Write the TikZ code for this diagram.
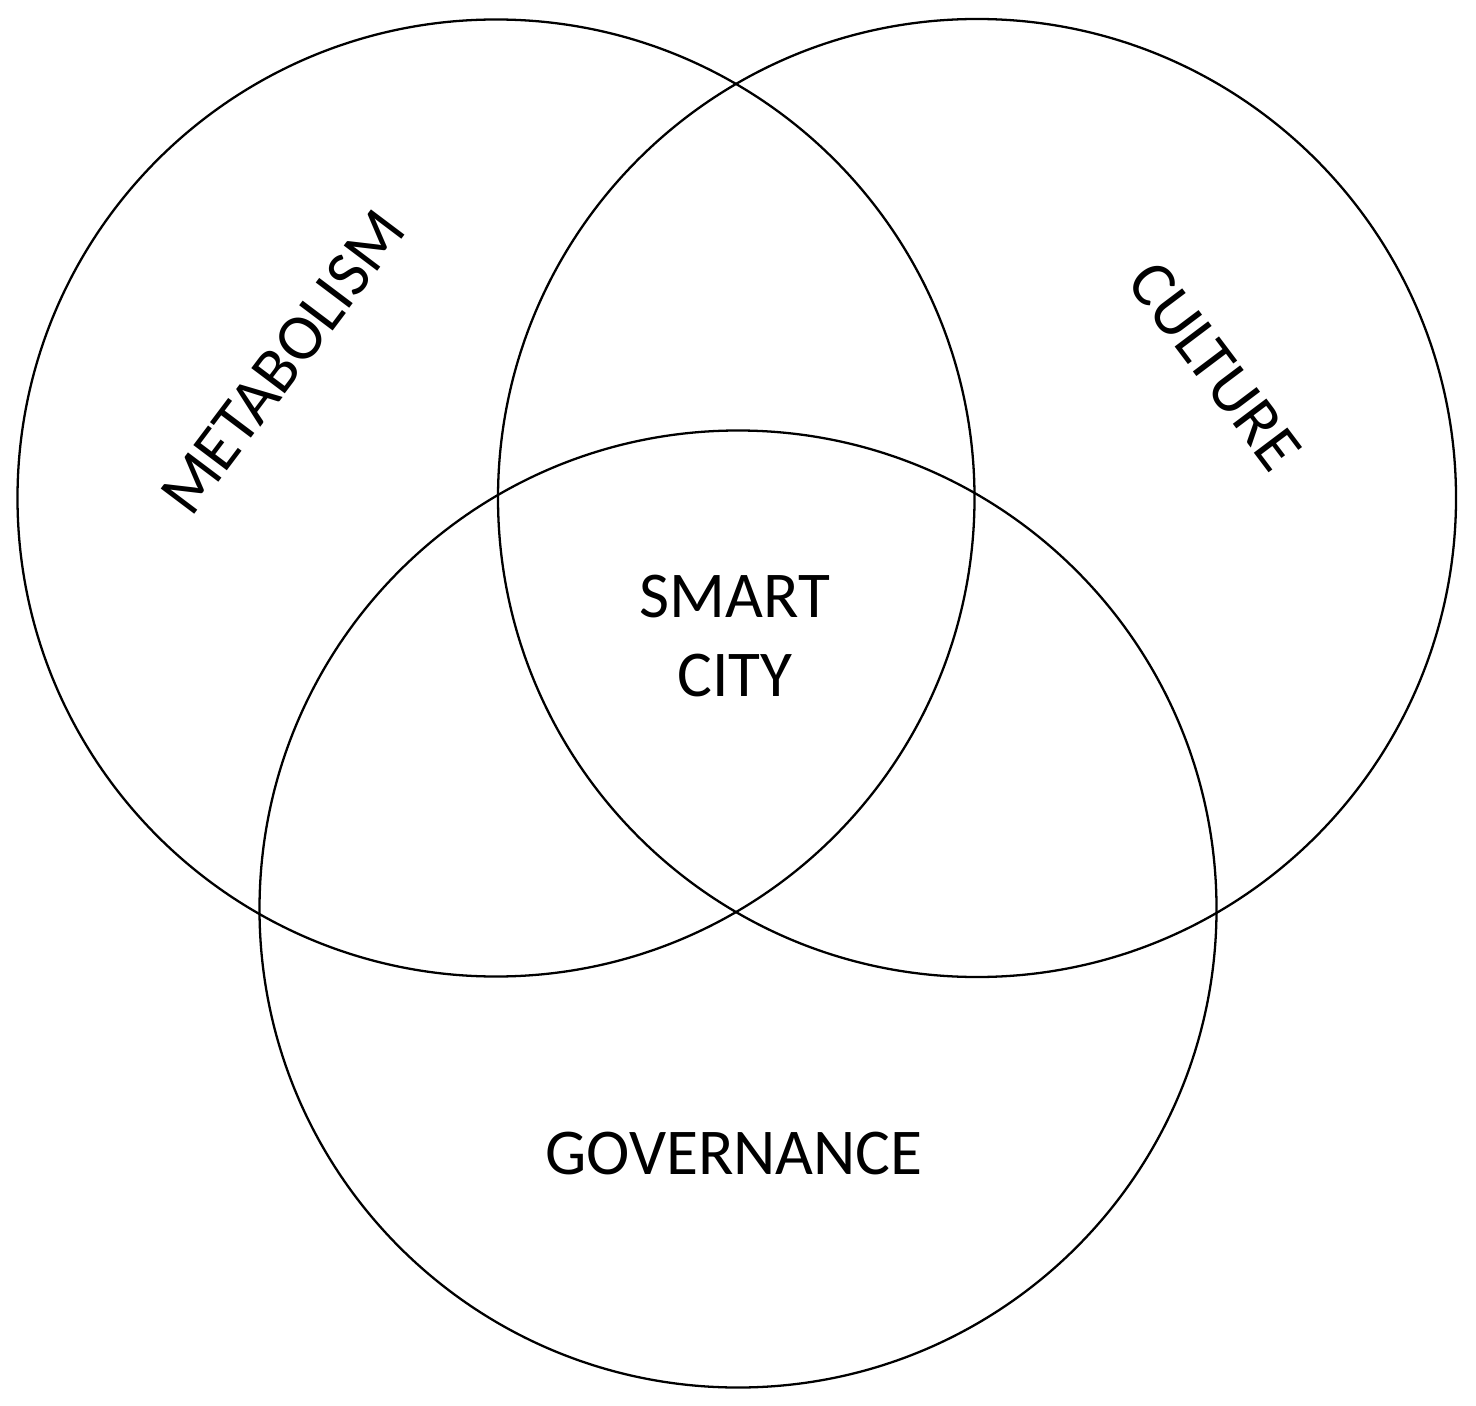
\documentclass[tikz,border=0pt]{standalone}
\usepackage{fontspec}
\setmainfont{Carlito}
\usetikzlibrary{positioning}

\begin{document}
\begin{tikzpicture}[main/.style = {draw, circle, inner sep=0pt, line width=0.65pt}, label/.style = {font=\fontsize{18.6}{22.7}\selectfont, align=center}]
        \useasboundingbox (0,0) rectangle (14.76,14.05);
        \node[main,minimum size=9.57cm] (1) at (4.96,9.07) {};
        \node[main,minimum size=9.58cm] (2) at (9.77,9.07) {};
        \node[main,minimum size=9.57cm] (3) at (7.38,4.96) {};

        \node[label, rotate=53] (4) at (2.83,10.43) {METABOLISM};
        \node[label, rotate=-53] (5) at (12.15,10.39) {CULTURE};
        \node[label] (6) at (7.35,7.69) {SMART\\CITY};
        \node[label] (7) at (7.34,2.52) {GOVERNANCE};

    \end{tikzpicture}
\end{document}
